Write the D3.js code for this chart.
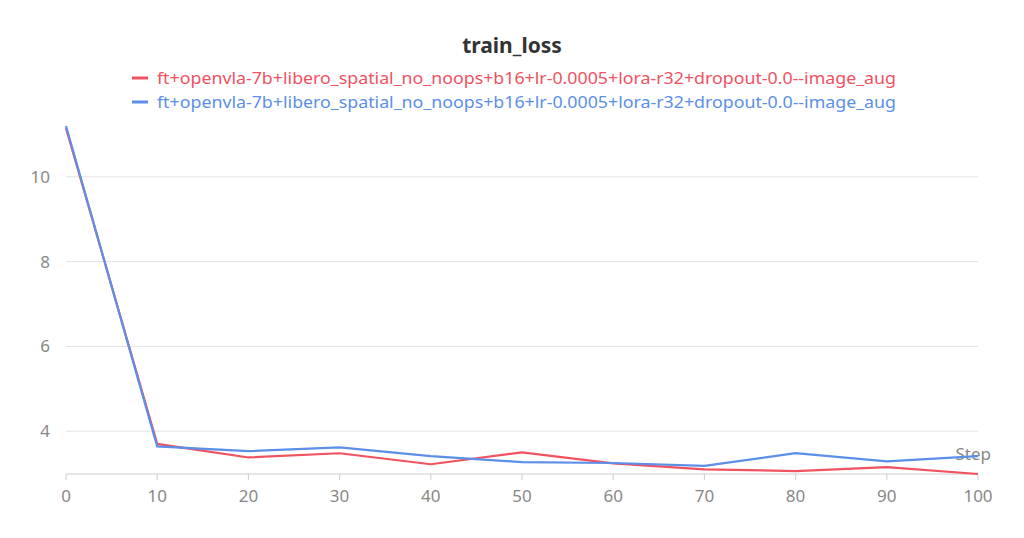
<!DOCTYPE html><html><head><meta charset="utf-8"><script src="https://cdn.jsdelivr.net/npm/d3@7"></script>
<style>body{margin:0;background:#fff;font-family:"Source Sans Pro","Noto Sans",sans-serif}</style></head><body><svg id="c" width="1024" height="538"></svg>
<script>
const steps=[0,10,20,30,40,50,60,70,80,90,100];
const redVals=[11.15,3.70,3.38,3.48,3.22,3.50,3.24,3.10,3.06,3.15,2.99];
const blueVals=[11.20,3.64,3.53,3.62,3.41,3.27,3.25,3.18,3.48,3.29,3.41];
const yTicks=[4,6,8,10];
const xTicks=[0,10,20,30,40,50,60,70,80,90,100];
const seriesName="ft+openvla-7b+libero_spatial_no_noops+b16+lr-0.0005+lora-r32+dropout-0.0--image_aug";
const colors=["#f0525f","#5b8fe8"];
const svg=d3.select("#c");
const x=d3.scaleLinear().domain([0,100]).range([66,978]);
const y=d3.scaleLinear().domain([2.99,11.2]).range([474,126]);
svg.append("text").attr("x",512).attr("y",53).attr("text-anchor","middle").attr("font-size",21).attr("font-weight","bold").attr("fill","#333").text("train_loss");
[0,1].forEach(i=>{const yy=78+i*24;
 svg.append("line").attr("x1",132).attr("x2",148).attr("y1",yy).attr("y2",yy).attr("stroke",colors[i]).attr("stroke-width",3);
 svg.append("text").attr("x",157).attr("y",yy+6).attr("font-size",16).attr("fill",colors[i]).attr("textLength",739).attr("lengthAdjust","spacingAndGlyphs").text(seriesName);});
const g=svg.append("g");
yTicks.forEach(t=>{g.append("line").attr("x1",66).attr("x2",978).attr("y1",y(t)).attr("y2",y(t)).attr("stroke","#e2e2e6");
 g.append("text").attr("x",50).attr("y",y(t)+6).attr("text-anchor","end").attr("font-size",17).attr("fill","#888").text(t);});
g.append("line").attr("x1",66).attr("x2",978).attr("y1",474).attr("y2",474).attr("stroke","#ccc");
xTicks.forEach(t=>{g.append("line").attr("x1",x(t)).attr("x2",x(t)).attr("y1",474).attr("y2",480).attr("stroke","#ccc");
 g.append("text").attr("x",x(t)).attr("y",502).attr("text-anchor","middle").attr("font-size",17).attr("fill","#888").text(t);});
svg.append("text").attr("x",991).attr("y",460).attr("text-anchor","end").attr("font-size",17).attr("fill","#888").text("Step");
const line=d3.line().x((d,i)=>x(steps[i])).y(d=>y(d));
[redVals,blueVals].forEach((v,i)=>svg.append("path").attr("d",line(v)).attr("fill","none").attr("stroke",colors[i]).attr("stroke-width",2.2));
</script></body></html>
